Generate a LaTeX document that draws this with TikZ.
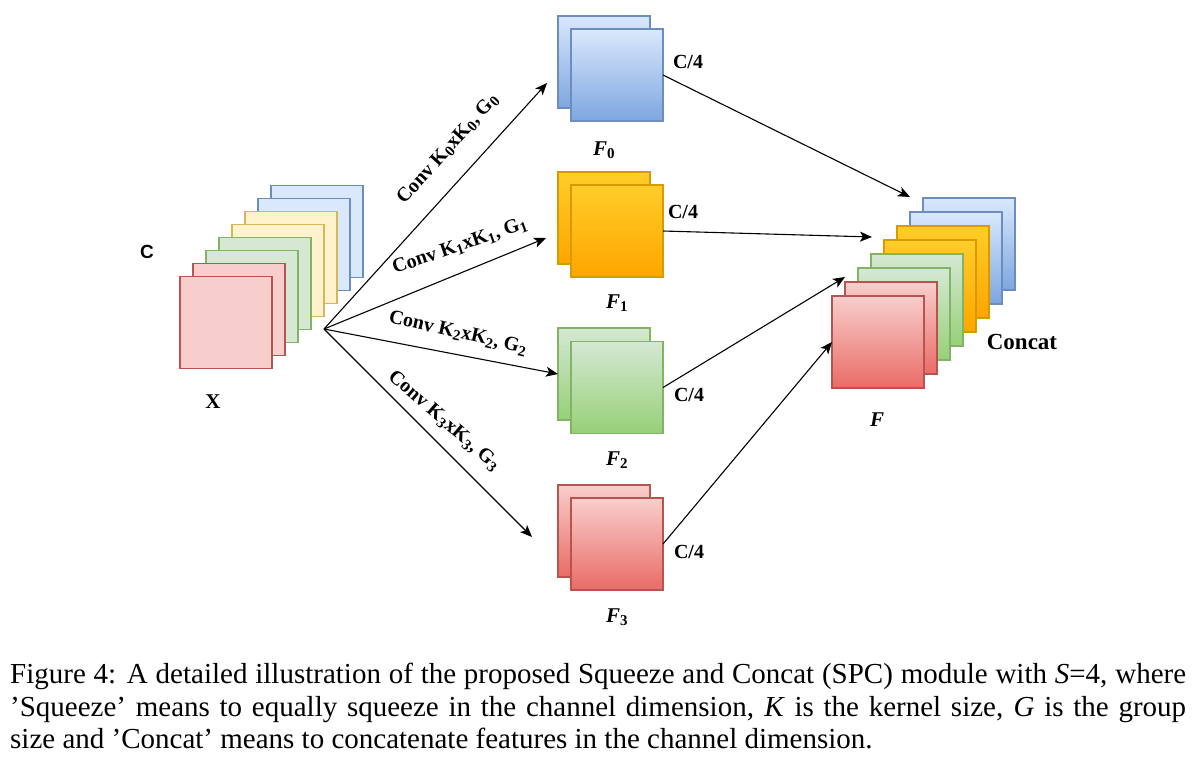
\documentclass[tikz,border=0pt]{standalone}
\usepackage{fontspec}
\setmainfont{Liberation Serif}
\newfontfamily\sansbold{Liberation Sans}
\usetikzlibrary{arrows.meta}
\definecolor{bfill}{HTML}{DAE8FC}\definecolor{bdraw}{HTML}{6C8EBF}\definecolor{bgrad}{HTML}{7EA6E0}
\definecolor{yfill}{HTML}{FFF2CC}\definecolor{ydraw}{HTML}{D6B656}
\definecolor{gfill}{HTML}{D5E8D4}\definecolor{gdraw}{HTML}{82B366}\definecolor{ggrad}{HTML}{97D077}
\definecolor{rfill}{HTML}{F8CECC}\definecolor{rdraw}{HTML}{B85450}\definecolor{rgrad}{HTML}{EA6B66}
\definecolor{ofill}{HTML}{FFCD28}\definecolor{odraw}{HTML}{D79B00}\definecolor{ograd}{HTML}{FFA500}
\newcommand\sub[1]{\textsubscript{\upshape\fontsize{15}{16}\selectfont #1}}
\tikzset{
  sq/.style={minimum width=92pt,minimum height=92pt,inner sep=0pt,outer sep=0pt,line width=1.3pt},
  blueflat/.style={sq,fill=bfill,draw=bdraw},
  yelflat/.style={sq,fill=yfill,draw=ydraw},
  grnflat/.style={sq,fill=gfill,draw=gdraw},
  redflat/.style={sq,fill=rfill,draw=rdraw},
  bluegrad/.style={sq,top color=bfill,bottom color=bgrad,draw=bdraw},
  orggrad/.style={sq,top color=ofill,bottom color=ograd,draw=odraw},
  grngrad/.style={sq,top color=gfill,bottom color=ggrad,draw=gdraw},
  redgrad/.style={sq,top color=rfill,bottom color=rgrad,draw=rdraw},
  arr/.style={-{Stealth[length=12pt,width=10pt,inset=3pt]},line width=1.1pt},
  lab/.style={font=\fontsize{20}{22}\selectfont\bfseries,inner sep=0pt},
  flabel/.style={font=\fontsize{21}{22}\selectfont\bfseries\itshape,inner sep=0pt},
}
\begin{document}
\begin{tikzpicture}[x=1pt,y=-1pt]
\useasboundingbox (0,0) rectangle (1197,764);
% input stack X
\foreach \i/\s in {7/blueflat,6/blueflat,5/yelflat,4/yelflat,3/grnflat,2/grnflat,1/redflat,0/redflat}
  \node[\s] (x\i) at ({226+13*\i},{322.5-13*\i}) {};
\node[font=\fontsize{19}{22}\selectfont\sansbold\bfseries] (clab) at (147,252) {C};
\node[lab,font=\fontsize{21}{22}\selectfont\bfseries] (xlab) at (213,402) {X};
% middle groups
\node[bluegrad] (f0b) at (604,62) {};
\node[bluegrad] (f0) at (617,75) {};
\node[orggrad] (f1b) at (604,218) {};
\node[orggrad] (f1) at (617,231) {};
\node[grngrad] (f2b) at (604,374) {};
\node[grngrad] (f2) at (617,387.5) {};
\node[redgrad] (f3b) at (604,531) {};
\node[redgrad] (f3) at (617,544) {};
\node[flabel] (f0lab) at (604,150) {F\sub{0}};
\node[flabel] (f1lab) at (617,303) {F\sub{1}};
\node[flabel] (f2lab) at (617,460) {F\sub{2}};
\node[flabel] (f3lab) at (617,617) {F\sub{3}};
\node[lab] (c0) at (688,62) {C/4};
\node[lab] (c1) at (683,212) {C/4};
\node[lab] (c2) at (689,395) {C/4};
\node[lab] (c3) at (689,552) {C/4};
% output stack F
\foreach \i/\s in {7/bluegrad,6/bluegrad,5/orggrad,4/orggrad,3/grngrad,2/grngrad,1/redgrad,0/redgrad}
  \node[\s] (r\i) at ({878+13*\i},{342-14*\i}) {};
\node[lab,font=\fontsize{23}{24}\selectfont\bfseries] (concat) at (1022,342) {Concat};
\node[flabel] (flab) at (877,420) {F};
% connectors
\coordinate (src) at (324,329);
\coordinate (t0) at (547,83);
\coordinate (t1) at (546,238);
\coordinate (t3) at (532,537);
\coordinate (e0) at (910,197);
\coordinate (e1) at (872,237);
\coordinate (e2) at (845,277);
\draw[arr] (src) -- (t0);
\draw[arr] (src) -- (t1);
\draw[arr] (src) -- (f2b.west);
\draw[arr] (src) -- (t3);
\draw[arr] (f0.east) -- (e0);
\draw[arr] (f1.east) -- (e1);
\draw[arr] (f2.east) -- (e2);
\draw[arr] (f3.east) -- (r0.west);
% conv labels
\node[lab,rotate=48] (l0) at (448,149) {Conv K\sub{0}xK\sub{0}, G\sub{0}};
\node[lab,rotate=19] (l1) at (460,246) {Conv K\sub{1}xK\sub{1}, G\sub{1}};
\node[lab,rotate=-13] (l2) at (458,333) {Conv K\sub{2}xK\sub{2}, G\sub{2}};
\node[lab,rotate=-41] (l3) at (444,421) {Conv K\sub{3}xK\sub{3}, G\sub{3}};
% caption
\node[anchor=north west,inner sep=0pt,text width=1176pt,align=justify,
      font=\fontsize{29}{32.5}\selectfont] (cap) at (10,663)
 {Figure 4: A detailed illustration of the proposed Squeeze and Concat (SPC) module with \textit{S}=4, where\linebreak
 ’Squeeze’ means to equally squeeze in the channel dimension, \textit{K} is the kernel size, \textit{G} is the group\linebreak
 size and ’Concat’ means to concatenate features in the channel dimension.};
\end{tikzpicture}
\end{document}
